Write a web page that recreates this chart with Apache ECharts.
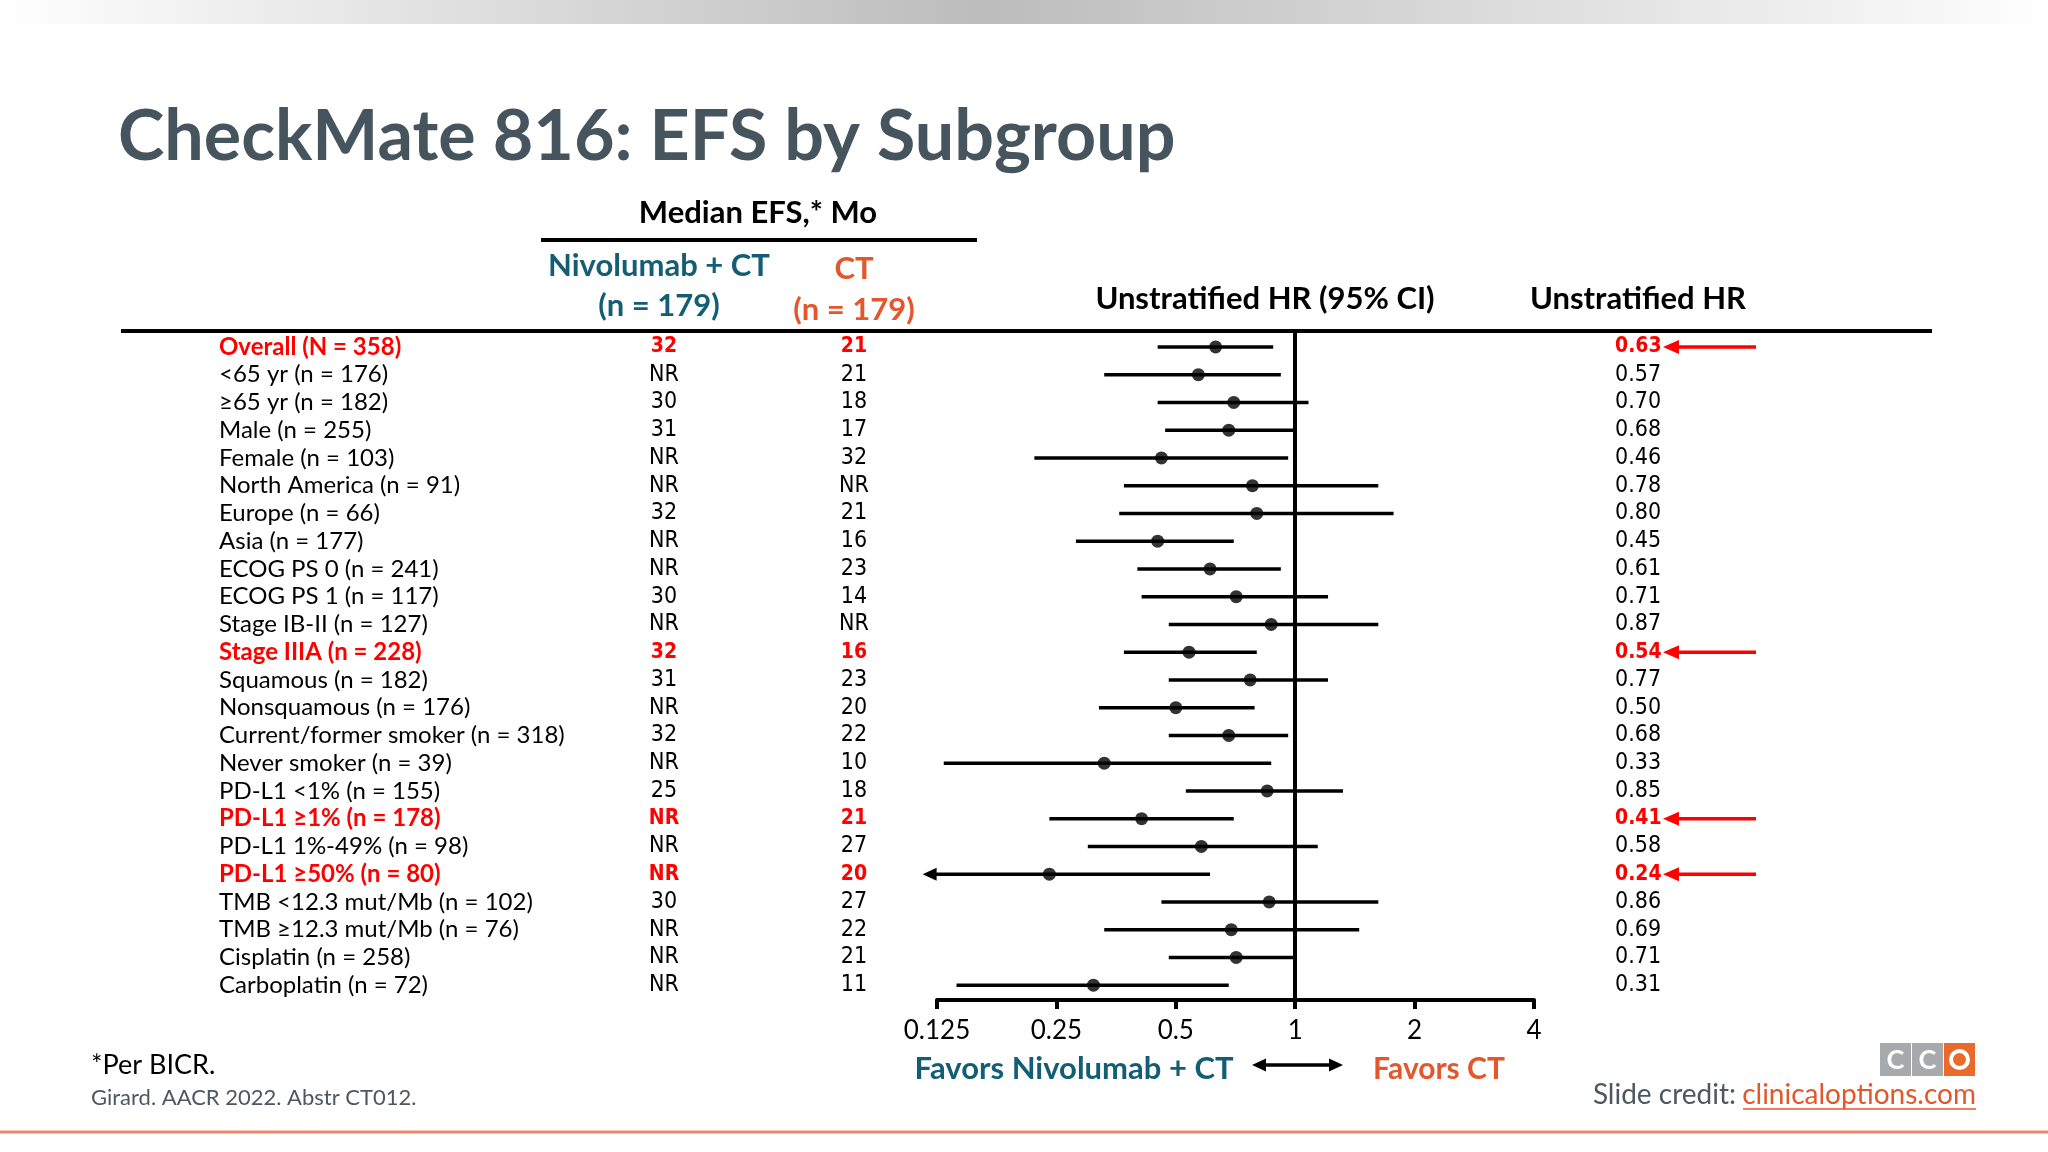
<!DOCTYPE html>
<html>
<head>
<meta charset="utf-8">
<title>CheckMate 816: EFS by Subgroup</title>
<script src="https://cdn.jsdelivr.net/npm/echarts@6/dist/echarts.min.js"></script>
<style>
  html, body { margin: 0; padding: 0; background: #fff; }
  #chart { width: 2048px; height: 1152px; }
</style>
</head>
<body>
<div id="chart"></div>
<script>
// 亚组数据
const subgroups = [
  "Overall (N = 358)", "<65 yr (n = 176)", "≥65 yr (n = 182)", "Male (n = 255)",
  "Female (n = 103)", "North America (n = 91)", "Europe (n = 66)", "Asia (n = 177)",
  "ECOG PS 0 (n = 241)", "ECOG PS 1 (n = 117)", "Stage IB-II (n = 127)", "Stage IIIA (n = 228)",
  "Squamous (n = 182)", "Nonsquamous (n = 176)", "Current/former smoker (n = 318)", "Never smoker (n = 39)",
  "PD-L1 <1% (n = 155)", "PD-L1 ≥1% (n = 178)", "PD-L1 1%-49% (n = 98)", "PD-L1 ≥50% (n = 80)",
  "TMB <12.3 mut/Mb (n = 102)", "TMB ≥12.3 mut/Mb (n = 76)", "Cisplatin (n = 258)", "Carboplatin (n = 72)",
];
const nivoMedian = ["32", "NR", "30", "31", "NR", "NR", "32", "NR", "NR", "30", "NR", "32",
  "31", "NR", "32", "NR", "25", "NR", "NR", "NR", "30", "NR", "NR", "NR"];
const ctMedian = ["21", "21", "18", "17", "32", "NR", "21", "16", "23", "14", "NR", "16",
  "23", "20", "22", "10", "18", "21", "27", "20", "27", "22", "21", "11"];
const hr = [0.63, 0.57, 0.70, 0.68, 0.46, 0.78, 0.80, 0.45, 0.61, 0.71, 0.87, 0.54,
  0.77, 0.50, 0.68, 0.33, 0.85, 0.41, 0.58, 0.24, 0.86, 0.69, 0.71, 0.31];
const ciLow = [0.45, 0.33, 0.45, 0.47, 0.22, 0.37, 0.36, 0.28, 0.40, 0.41, 0.48, 0.37,
  0.48, 0.32, 0.48, 0.13, 0.53, 0.24, 0.30, 0.115, 0.46, 0.33, 0.48, 0.14];
const ciHigh = [0.88, 0.92, 1.08, 0.99, 0.96, 1.62, 1.77, 0.70, 0.92, 1.21, 1.62, 0.80,
  1.21, 0.79, 0.96, 0.87, 1.32, 0.70, 1.14, 0.61, 1.62, 1.45, 0.99, 0.68];
const highlightRows = [0, 11, 17, 19]; // 红色加粗 + 右侧箭头
const xTicks = [0.125, 0.25, 0.5, 1, 2, 4];

const RED = "#ff0000";
const TEAL = "#135e75";
const ORANGE = "#e2572b";
const SLATE = "#46545e";
const GREY_TEXT = "#4d5760";
const NUM_FONT = "'DejaVu Sans Condensed', 'DejaVu Sans', sans-serif";

const GRID = { left: 937, right: 514, top: 333, bottom: 153 };
const X_MIN = xTicks[0];
const X_MAX = xTicks[xTicks.length - 1];

const chart = echarts.init(document.getElementById("chart"));

const isHl = (i) => highlightRows.includes(i);

const baseY = {
  type: "category",
  data: subgroups,
  inverse: true,
  axisLine: { show: false },
  axisTick: { show: false },
  splitLine: { show: false },
};

const numLabel = (arr, align) => ({
  interval: 0,
  margin: 0,
  align: align,
  color: "#000",
  fontFamily: NUM_FONT,
  fontSize: 23,
  formatter: (v, i) => (isHl(i) ? `{hl|${arr[i]}}` : arr[i]),
  rich: { hl: { color: RED, fontFamily: NUM_FONT, fontSize: 21, fontWeight: "bold" } },
});

/**
 * 置信区间线段；下限小于坐标轴最小值时画左向箭头
 */
const renderCI = (params, api) => {
  const row = api.value(2);
  const lo = api.value(0);
  const p1 = api.coord([lo, row]);
  const p2 = api.coord([api.value(1), row]);
  const style = { stroke: "#000", lineWidth: 3.5, fill: null };
  const children = [];
  if (lo < X_MIN) {
    const head = 14;
    children.push({ type: "line", shape: { x1: p1[0] + head - 1, y1: p1[1], x2: p2[0], y2: p2[1] }, style });
    children.push({
      type: "polygon",
      shape: { points: [[p1[0], p1[1]], [p1[0] + head, p1[1] - 6.5], [p1[0] + head, p1[1] + 6.5]] },
      style: { fill: "#000" },
    });
  } else {
    children.push({ type: "line", shape: { x1: p1[0], y1: p1[1], x2: p2[0], y2: p2[1] }, style });
  }
  return { type: "group", children };
};

const text = (t, x, y, opt) => ({
  type: "text",
  x, y,
  style: Object.assign({ text: t, align: "center", verticalAlign: "middle", fill: "#000",
    fontFamily: "Lato", fontSize: 31, fontWeight: "bold" }, opt || {}),
  silent: true,
});
const hline = (x1, x2, y, w, color) => ({
  type: "line",
  shape: { x1, y1: y, x2, y2: y },
  style: { stroke: color || "#000", lineWidth: w },
  silent: true,
});

const decorations = [
  {
    type: "rect",
    shape: { x: 0, y: 0, width: 2048, height: 24 },
    style: {
      fill: new echarts.graphic.LinearGradient(0, 0, 1, 0, [
        { offset: 0, color: "#ffffff" },
        { offset: 0.06, color: "#f6f6f6" },
        { offset: 0.48, color: "#bcbcbc" },
        { offset: 0.94, color: "#f6f6f6" },
        { offset: 1, color: "#ffffff" },
      ]),
    },
    silent: true,
  },
  text("CheckMate 816: EFS by Subgroup", 118, 137, { align: "left", fontSize: 70, fill: SLATE }),
  text("Median EFS,* Mo", 758, 213),
  hline(541, 977, 240, 4),
  text("Nivolumab + CT", 659, 266, { fill: TEAL }),
  text("(n = 179)", 659, 306, { fill: TEAL }),
  text("CT", 854, 269, { fill: ORANGE }),
  text("(n = 179)", 854, 310, { fill: ORANGE }),
  text("Unstratified HR (95% CI)", 1265, 299),
  text("Unstratified HR", 1638, 299),
  hline(121, 1932, 331, 4),
  // 横轴下方说明
  text("Favors Nivolumab + CT", 1074, 1069, { fill: TEAL }),
  text("Favors CT", 1439, 1069, { fill: ORANGE, fontSize: 30 }),
  hline(1262, 1333, 1065, 3.5),
  { type: "polygon", shape: { points: [[1252, 1065], [1266, 1058.5], [1266, 1071.5]] }, style: { fill: "#000" }, silent: true },
  { type: "polygon", shape: { points: [[1343, 1065], [1329, 1058.5], [1329, 1071.5]] }, style: { fill: "#000" }, silent: true },
  // 脚注
  text("*Per BICR.", 91, 1065, { align: "left", fontWeight: "normal", fontSize: 27 }),
  text("Girard. AACR 2022. Abstr CT012.", 91, 1098, { align: "left", fontWeight: "normal", fontSize: 22, fill: GREY_TEXT }),
  text("Slide credit:", 1736, 1095, { align: "right", fontWeight: "normal", fontSize: 28, fill: GREY_TEXT }),
  text("clinicaloptions.com", 1976, 1095, { align: "right", fontWeight: "normal", fontSize: 28, fill: ORANGE }),
  hline(1743, 1976, 1109, 1.6, ORANGE),
  // CCO 标志
  { type: "rect", shape: { x: 1880, y: 1043, width: 31, height: 33 }, style: { fill: "#a7a9ac" }, silent: true },
  { type: "rect", shape: { x: 1912, y: 1043, width: 31, height: 33 }, style: { fill: "#a7a9ac" }, silent: true },
  { type: "rect", shape: { x: 1944, y: 1043, width: 31, height: 33 }, style: { fill: "#ea6a2c" }, silent: true },
  text("C", 1895.5, 1060, { fill: "#fff", fontSize: 27 }),
  text("C", 1927.5, 1060, { fill: "#fff", fontSize: 27 }),
  { type: "circle", shape: { cx: 1959.5, cy: 1059.5, r: 8.5 }, style: { fill: null, stroke: "#fff", lineWidth: 4 }, silent: true },
  hline(0, 2048, 1132, 3, "#e9876a"),
];

const option = {
  backgroundColor: "#fff",
  animation: false,
  grid: Object.assign({ outerBoundsMode: "none" }, GRID),
  xAxis: {
    type: "log",
    logBase: 2,
    min: X_MIN,
    max: X_MAX,
    splitNumber: 5,
    offset: 1,
    axisLine: { show: true, lineStyle: { color: "#000", width: 4 } },
    axisTick: { show: true, length: 9, lineStyle: { color: "#000", width: 4 } },
    splitLine: { show: false },
    axisLabel: {
      margin: 18,
      color: "#000",
      fontFamily: "Lato",
      fontSize: 26,
      formatter: (v) => {
        const t = xTicks.find((k) => Math.abs(k - v) < 1e-6);
        return t === undefined ? "" : String(t);
      },
    },
  },
  yAxis: [
    Object.assign({}, baseY, {
      position: "left",
      offset: GRID.left - 219,
      axisLabel: {
        interval: 0,
        margin: 0,
        align: "left",
        color: "#000",
        fontFamily: "Lato",
        fontSize: 24,
        formatter: (v, i) => (isHl(i) ? `{hl|${v}}` : v),
        rich: { hl: { color: RED, fontFamily: "Lato", fontSize: 24, fontWeight: "bold" } },
      },
    }),
    Object.assign({}, baseY, { position: "left", offset: GRID.left - 664, axisLabel: numLabel(nivoMedian, "center") }),
    Object.assign({}, baseY, { position: "left", offset: GRID.left - 854, axisLabel: numLabel(ctMedian, "center") }),
    Object.assign({}, baseY, {
      position: "right",
      offset: 1615 - (2048 - GRID.right),
      axisLabel: numLabel(hr.map((v) => v.toFixed(2)), "left"),
    }),
  ],
  series: [
    {
      name: "95% CI",
      type: "custom",
      renderItem: renderCI,
      encode: { x: [0, 1], y: 2 },
      data: subgroups.map((s, i) => [ciLow[i], ciHigh[i], i]),
      z: 2,
      silent: true,
    },
    {
      name: "HR",
      type: "scatter",
      symbol: "circle",
      symbolSize: 13,
      itemStyle: { color: "#000" },
      data: subgroups.map((s, i) => [hr[i], i]),
      z: 3,
      silent: true,
      markLine: {
        silent: true,
        symbol: ["none", "none"],
        label: { show: false },
        lineStyle: { color: "#000", width: 4, type: "solid" },
        data: [{ xAxis: 1 }],
      },
    },
  ],
  graphic: decorations,
};

chart.setOption(option);

// 右侧红色箭头，按行位置定位
const arrows = [];
highlightRows.forEach((i) => {
  const y = chart.convertToPixel({ yAxisIndex: 0 }, i);
  arrows.push(hline(1676, 1756, y, 3.5, RED));
  arrows.push({
    type: "polygon",
    shape: { points: [[1663, y], [1679, y - 7], [1679, y + 7]] },
    style: { fill: RED },
    silent: true,
  });
});
chart.setOption({ graphic: decorations.concat(arrows) });
</script>
</body>
</html>
